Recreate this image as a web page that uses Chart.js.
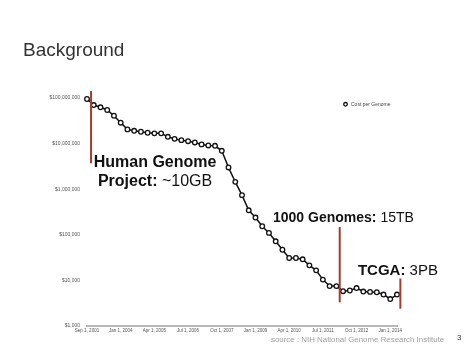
<!DOCTYPE html>
<html>
<head>
<meta charset="utf-8">
<script src="https://cdn.jsdelivr.net/npm/chart.js@4/dist/chart.umd.min.js"></script>
<style>
  html, body { margin: 0; padding: 0; background: #fff; }
  #wrap { position: relative; width: 474px; height: 355px; overflow: hidden; font-family: "Liberation Sans", Arial, sans-serif; }
  canvas { position: absolute; left: 0; top: 0; }
  .title { position: absolute; left: 23px; top: 40px; font-size: 19px; line-height: 20px; color: #333; }
  .source { position: absolute; left: 271px; top: 335px; font-size: 7.9px; line-height: 10px; color: #a0a0a0; }
  .page { position: absolute; left: 457px; top: 333px; font-size: 8px; line-height: 10px; color: #333; }
</style>
</head>
<body>
<div id="wrap">
  <canvas id="c" width="474" height="355"></canvas>
  <div class="title">Background</div>
  <div class="source">source : NIH National Genome Research Institute</div>
  <div class="page">3</div>
</div>
<script>
// ---- data ----
const categories = [
  'Sep 1, 2001','Mar 1, 2002','Sep 1, 2002','Mar 1, 2003','Oct 1, 2003',
  'Jan 1, 2004','Apr 1, 2004','Jul 1, 2004','Oct 1, 2004','Jan 1, 2005',
  'Apr 1, 2005','Jul 1, 2005','Oct 1, 2005','Jan 1, 2006','Apr 1, 2006',
  'Jul 1, 2006','Oct 1, 2006','Jan 1, 2007','Apr 1, 2007','Jul 1, 2007',
  'Oct 1, 2007','Jan 1, 2008','Apr 1, 2008','Jul 1, 2008','Oct 1, 2008',
  'Jan 1, 2009','Apr 1, 2009','Jul 1, 2009','Oct 1, 2009','Jan 1, 2010',
  'Apr 1, 2010','Jul 1, 2010','Oct 1, 2010','Jan 1, 2011','Apr 1, 2011',
  'Jul 1, 2011','Oct 1, 2011','Jan 1, 2012','Apr 1, 2012','Jul 1, 2012',
  'Oct 1, 2012','Jan 1, 2013','Apr 1, 2013','Jul 1, 2013','Oct 1, 2013',
  'Jan 1, 2014','Apr 1, 2014'
];
const costPerGenome = [
  95000000, 70000000, 62500000, 54500000, 40800000,
  28700000, 20500000, 19100000, 18200000, 17300000,
  16800000, 16800000, 14100000, 12700000, 11900000,
  11300000, 10600000, 9600000, 9100000, 8950000,
  6950000, 3000000, 1450000, 740000, 345000,
  239000, 154000, 110000, 72000, 47000,
  31000, 31000, 29000, 21400, 16600,
  10400, 7500, 7500, 5800, 6000,
  6800, 5700, 5600, 5500, 4900,
  3900, 4900
];
const xTickLabels = ['Sep 1, 2001','Jan 1, 2004','Apr 1, 2005','Jul 1, 2006','Oct 1, 2007',
  'Jan 1, 2009','Apr 1, 2010','Jul 1, 2011','Oct 1, 2012','Jan 1, 2014'];
const yTickValues = [1000, 10000, 100000, 1000000, 10000000, 100000000];
const seriesName = 'Cost per Genome';

// annotation markers (category index, value range) and labels
const markerX = [0.6, 37.5, 46.5];
const markerTop = [142000000, 148000, 11000];
const markerBottom = [3700000, 3300, 2400];
const noteBold = ['Human Genome', 'Project:', '1000 Genomes:', 'TCGA:'];
const noteRegular = ['', ' ~10GB', ' 15TB', ' 3PB'];
const noteX = [10.1, 10.1, 27.6, 40.2];
const noteY = [3780000, 1450000, 227000, 16600];
const noteAlign = ['center', 'center', 'left', 'left'];
const noteSize = [16, 16, 14, 15];

const RED = '#a83a2c';
const FAM = '"Liberation Sans", Arial, sans-serif';

const annotPlugin = {
  id: 'annot',
  afterDraw(chart) {
    const ctx = chart.ctx, xs = chart.scales.x, ys = chart.scales.y, ca = chart.chartArea;
    ctx.save();
    ctx.strokeStyle = RED;
    ctx.lineWidth = 2;
    for (let i = 0; i < markerX.length; i++) {
      const px = xs.getPixelForValue(markerX[i]);
      ctx.beginPath();
      ctx.moveTo(px, ys.getPixelForValue(markerTop[i]));
      ctx.lineTo(px, ys.getPixelForValue(markerBottom[i]));
      ctx.stroke();
    }
    ctx.textBaseline = 'middle';
    ctx.fillStyle = '#111';
    for (let i = 0; i < noteBold.length; i++) {
      const fb = 'bold ' + noteSize[i] + 'px ' + FAM;
      const fr = noteSize[i] + 'px ' + FAM;
      ctx.font = fb; const wb = ctx.measureText(noteBold[i]).width;
      ctx.font = fr; const wr = ctx.measureText(noteRegular[i]).width;
      let px = xs.getPixelForValue(noteX[i]);
      const py = ys.getPixelForValue(noteY[i]);
      if (noteAlign[i] === 'center') px -= (wb + wr) / 2;
      ctx.textAlign = 'left';
      ctx.font = fb; ctx.fillText(noteBold[i], px, py);
      ctx.font = fr; ctx.fillText(noteRegular[i], px + wb, py);
    }
    // legend
    const lx = ca.right - 51.5, ly = ca.top + 6.3;
    ctx.beginPath();
    ctx.arc(lx, ly, 1.8, 0, Math.PI * 2);
    ctx.fillStyle = '#fff'; ctx.fill();
    ctx.strokeStyle = '#111'; ctx.lineWidth = 1.3; ctx.stroke();
    ctx.fillStyle = '#444';
    ctx.font = '5px ' + FAM;
    ctx.fillText(seriesName, lx + 5.5, ly);
    ctx.restore();
  }
};

new Chart(document.getElementById('c'), {
  type: 'line',
  data: {
    labels: categories,
    datasets: [{
      label: seriesName,
      data: costPerGenome,
      borderColor: '#111',
      borderWidth: 1.5,
      backgroundColor: '#fff',
      pointBackgroundColor: '#fff',
      pointBorderColor: '#111',
      pointBorderWidth: 1.3,
      pointRadius: 2.3,
      tension: 0,
      clip: false
    }]
  },
  options: {
    responsive: false,
    animation: false,
    events: [],
    layout: { padding: { left: 0, right: 77, top: 98, bottom: 9 } },
    plugins: {
      legend: { display: false },
      tooltip: { enabled: false }
    },
    scales: {
      x: {
        type: 'category',
        offset: false,
        grid: { display: false, drawTicks: false },
        border: { display: true, color: '#b8b8b8', width: 2 },
        ticks: {
          autoSkip: false, maxRotation: 0, padding: 2,
          color: '#555',
          font: { size: 4.5, family: FAM },
          callback: function (v, i) { const l = categories[i]; return xTickLabels.includes(l) ? l : ''; }
        },
        afterFit(s) { s.height = 20; }
      },
      y: {
        type: 'logarithmic',
        min: 1000, max: 100000000,
        grid: { display: false, drawTicks: false },
        border: { display: false },
        afterBuildTicks(s) { s.ticks = yTickValues.map(v => ({ value: v })); },
        ticks: {
          padding: 7,
          color: '#555',
          font: { size: 5, family: FAM },
          callback: v => '$' + Number(v).toLocaleString('en-US')
        },
        afterFit(s) { s.width = 87; }
      }
    }
  },
  plugins: [annotPlugin]
});
</script>
</body>
</html>
